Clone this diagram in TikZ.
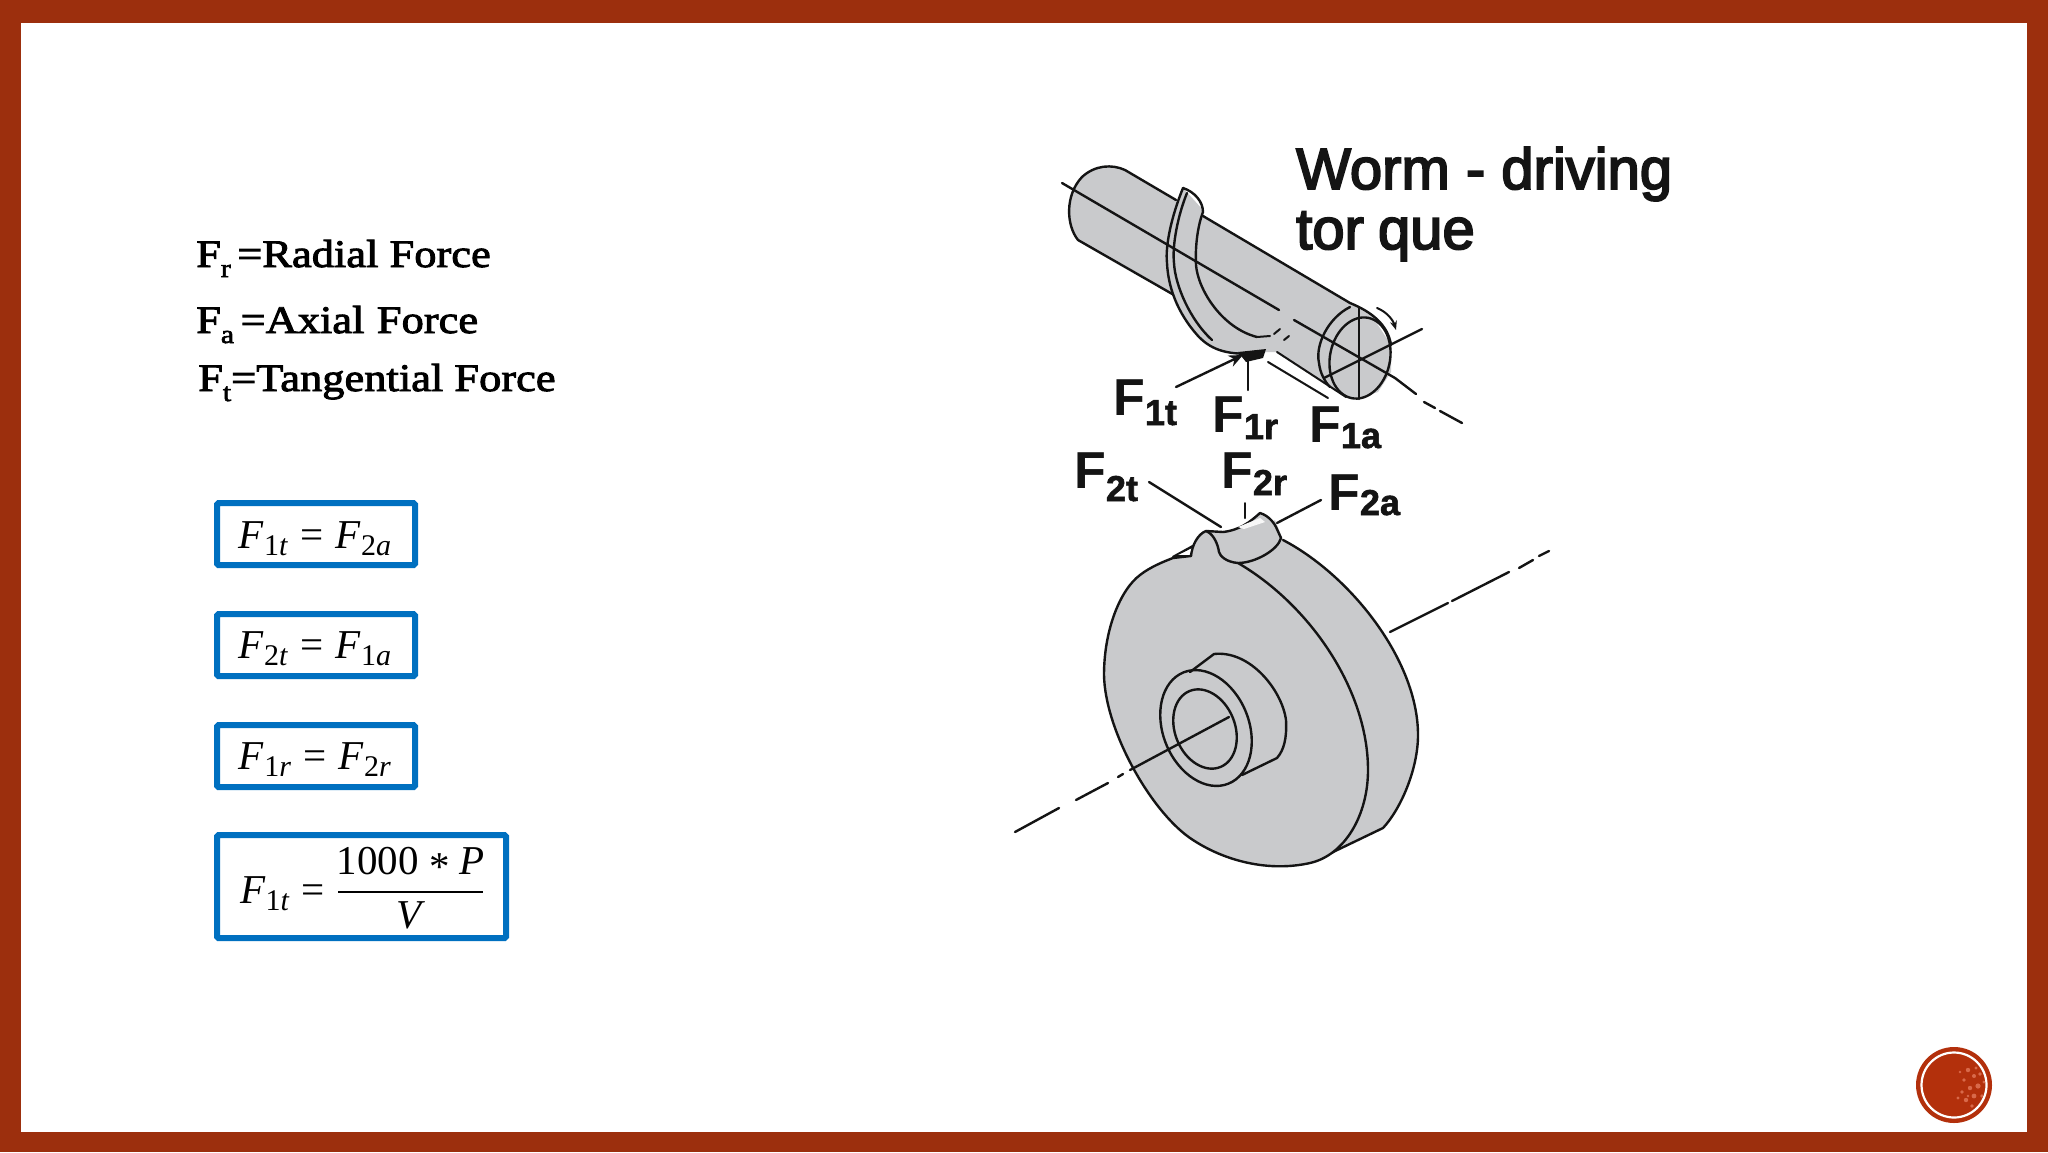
\documentclass[tikz,border=0pt]{standalone}
\usepackage{fontspec}
\setmainfont{Liberation Serif}
\newfontfamily\lblfont{Liberation Sans}[BoldFont={Liberation Sans Bold}]
\newfontfamily\subfont{Liberation Sans}[FakeBold=1.6]
\newfontfamily\headfont{Liberation Sans}[FakeBold=3.2]
\newfontfamily\defsfont{Liberation Serif}[FakeBold=2.4,FakeStretch=1.14]
\newfontfamily\eqfont{Liberation Serif}
\usetikzlibrary{arrows.meta,calc}
\definecolor{frameRed}{HTML}{9C2F0D}
\definecolor{boxBlue}{HTML}{0070C0}
\definecolor{partGray}{HTML}{C9CACC}
\definecolor{inkBlack}{HTML}{141414}
\definecolor{badgeRed}{HTML}{B3300C}
\definecolor{speck}{HTML}{D8694A}
\newcommand{\FS}[2]{\fontsize{#1}{#1}\selectfont #2}
\newcommand{\lblF}[2]{{\lblfont\bfseries\FS{52}{F}\raisebox{#1pt}{\subfont\FS{36}{#2}}}}
\newcommand{\eqF}[2]{\textit{F}\raisebox{-7pt}{\FS{30}{#1\textit{#2}}}}
\newcommand{\eqS}{\hspace{.3em}=\hspace{.3em}}
\newcommand{\defF}[2]{F\raisebox{-10pt}{\FS{26}{#1}}#2}
\tikzset{
  edge/.style={draw=inkBlack,line width=2.4pt,line cap=round,line join=round},
  part/.style={edge,fill=partGray},
  eqbox/.style={draw=boxBlue,line width=6pt,fill=white,rounded corners=1.5pt},
  eqtext/.style={inner sep=0pt,anchor=base,text=black,font=\eqfont\FS{41}{}},
  deftext/.style={inner sep=0pt,anchor=base west,text=black,font=\defsfont\FS{39}{}},
  forcelbl/.style={inner sep=0pt,anchor=base west,text=inkBlack},
  headline/.style={inner sep=0pt,anchor=base west,text=inkBlack,font=\headfont\FS{58}{}}
}
\begin{document}
\begin{tikzpicture}[x=1pt,y=-1pt]
\useasboundingbox (0,0) rectangle (2048,1152);
% frame
\fill[frameRed] (0,0) rectangle (2048,1152);
\fill[white] (21,23) rectangle (2027,1132);
% badge
\fill[badgeRed] (1954,1085) circle[radius=38];
\draw[white,line width=2.2pt] (1954,1085) circle[radius=32.5];
\begin{scope}
\clip (1954,1085) circle[radius=31];
\foreach \px/\py/\pr in {1968/1070/2.2,1974/1076/2,1964/1080/1.9,1978/1086/2.6,1970/1088/2.2,1962/1092/1.8,1974/1096/2.4,1966/1100/2.2,1980/1074/1.9,1958/1098/1.6,1972/1106/1.9,1982/1096/1.8,1976/1068/1.6,1960/1072/1.4,1984/1082/1.7,1968/1096/1.4}
  \fill[speck] (\px,\py) circle[radius=\pr];
\end{scope}
% definitions
\node[deftext] (d1) at (196,267) {\defF{r}{\,=Radial Force}};
\node[deftext] (d2) at (196,333) {\defF{a}{\,=Axial\hspace{.32em}Force}};
\node[deftext] (d3) at (198,391) {\defF{t}{=Tangential Force}};
% equation boxes
\path[eqbox] (217,503) rectangle (415,565);
\path[eqbox] (217,614) rectangle (415,676);
\path[eqbox] (217,725) rectangle (415,787);
\path[eqbox] (217,835) rectangle (506,938);
\node[eqtext] (e1) at (315,548) {\eqF{1}{t}\eqS\eqF{2}{a}};
\node[eqtext] (e2) at (315,658) {\eqF{2}{t}\eqS\eqF{1}{a}};
\node[eqtext] (e3) at (315,769) {\eqF{1}{r}\eqS\eqF{2}{r}};
\node[eqtext,anchor=base west] (e4) at (240,903) {\eqF{1}{t}\eqS};
\node[eqtext] (e5) at (411,874) {1000 \raisebox{-6pt}{*} \textit{P}};
\node[eqtext] (e6) at (411,928) {\textit{V}};
\coordinate (barL) at (338,892);
\coordinate (barR) at (483,892);
\draw[black,line width=2.5pt] (barL) -- (barR);
% worm
\fill[partGray] (1125,170) -- (1350,303) -- (1372,316) -- (1391,345) -- (1391,372) -- (1378,392) -- (1355,399) -- (1346,397) -- (1277,352) -- (1230,353) -- (1199,337) -- (1174,295) -- (1078,240) .. controls (1068,225) and (1065,195) .. (1082,177) .. controls (1095,165) and (1112,164) .. (1125,170) -- cycle;
\draw[edge] (1078,240) .. controls (1066,225) and (1065,195) .. (1082,177) .. controls (1095,165) and (1112,164) .. (1125,170);
\draw[edge] (1125,170) -- (1176,200);
\draw[edge] (1203,216) -- (1350,303);
\draw[edge] (1078,240) -- (1174,295);
\draw[edge] (1350,303) .. controls (1372,312) and (1388,325) .. (1391,345);
\draw[edge] (1350,307) .. controls (1328,318) and (1315,345) .. (1319,363) .. controls (1320,373) and (1325,382) .. (1330,387);
\draw[edge,rotate around={-12:(1360,358)}] (1360,358) ellipse[x radius=30,y radius=41];
\draw[edge,line width=2pt] (1277,352) -- (1346,397);
\draw[edge,line width=2pt] (1268,362) -- (1328,398);
% thread
\fill[partGray] (1183,188) .. controls (1172,215) and (1165,245) .. (1167,263) .. controls (1168,285) and (1174,305) .. (1199,337) .. controls (1212,350) and (1228,355) .. (1250,355) -- (1257,337) .. controls (1225,325) and (1198,290) .. (1196,260) .. controls (1195,240) and (1200,225) .. (1203,210) -- cycle;
\draw[edge] (1183,188) .. controls (1172,215) and (1165,245) .. (1167,263) .. controls (1168,285) and (1176,312) .. (1199,337) .. controls (1212,350) and (1228,356) .. (1262,353);
\draw[edge] (1187,193) .. controls (1178,215) and (1172,245) .. (1174,263) .. controls (1175,285) and (1190,320) .. (1212,340);
\draw[edge] (1183,188) .. controls (1195,192) and (1203,202) .. (1203,212) .. controls (1198,225) and (1195,245) .. (1196,265) .. controls (1198,290) and (1222,328) .. (1257,337);
\draw[edge,line width=2pt] (1257,337) -- (1270,336);
\draw[edge,line width=2pt] (1274,334) -- (1280,329);
\draw[edge,line width=2pt] (1284,340) -- (1289,336);
% worm axes
\coordinate (wa0) at (1062,183);
\coordinate (wa1) at (1279,310);
\coordinate (wa3) at (1294,320);
\coordinate (wa4) at (1395,378);
\coordinate (wa5) at (1424,402);
\coordinate (wa6) at (1435,408);
\coordinate (wa7) at (1462,423);
\draw[edge] (wa0) -- (wa1);
\draw[edge] (wa3) -- (wa4) -- (1416,394);
\draw[edge] (wa5) -- (wa6);
\draw[edge] (1440,411) -- (wa7);
\draw[edge] (1359,307) -- (1359,399);
\draw[edge] (1422,329) -- (1324,378);
\draw[edge,line width=2pt,-{Stealth[length=9pt,width=7pt]}] (1377,308) .. controls (1387,312) and (1393,320) .. (1396,330);
% force leaders worm
\coordinate (a1s) at (1176,387);
\coordinate (a1e) at (1243,355);
\coordinate (a2s) at (1248,390);
\coordinate (a2e) at (1248,354);
\fill[inkBlack] (1238,352) -- (1266,349) -- (1263,358) -- (1246,362) -- cycle;
\draw[edge,-{Stealth[length=14pt,width=12pt]}] (a1s) -- (a1e);
\draw[edge] (a2s) -- (a2e);
% wheel axes behind
\coordinate (wb0) at (1390,632);
\coordinate (wb1) at (1549,551);
\draw[edge] (wb0) -- (1448,603);
\draw[edge] (1452,601) -- (1509,572);
\draw[edge] (1519,568) -- (1533,560);
\draw[edge] (1539,556) -- (wb1);
% wheel rim
\fill[partGray] (1275,520) -- (1283,540) .. controls (1350,575) and (1418,660) .. (1418,735) .. controls (1418,770) and (1400,810) .. (1383,828) -- (1331,853) -- (1280,700) -- (1230,560) -- cycle;
\draw[edge] (1283,540) .. controls (1350,575) and (1418,660) .. (1418,735) .. controls (1418,770) and (1400,810) .. (1383,828) -- (1331,853);
% wheel face
\path[part] (1191,556) .. controls (1192,545) and (1198,534) .. (1206,531) -- (1223,532)
 .. controls (1240,530) and (1250,522) .. (1260,513) .. controls (1270,516) and (1275,525) .. (1276,527)
 -- (1281,538) .. controls (1278,550) and (1255,563) .. (1238,563)
 .. controls (1310,605) and (1368,690) .. (1368,770) .. controls (1368,815) and (1345,855) .. (1310,863)
 .. controls (1270,872) and (1225,862) .. (1190,838) .. controls (1150,810) and (1105,730) .. (1104,675)
 .. controls (1104,630) and (1120,590) .. (1140,575) .. controls (1150,567) and (1165,561) .. (1173,558)
 -- cycle;
\draw[edge] (1173,557) -- (1193,546);
\fill[white] (1176,556) -- (1191,549) -- (1189,555) -- cycle;
\draw[edge,line width=2pt] (1176,556) -- (1191,556);
% tooth
\draw[edge] (1206,531) .. controls (1214,534) and (1218,545) .. (1219,552) .. controls (1220,556) and (1226,562) .. (1238,563);
\fill[white!85!partGray] (1238,527) -- (1260,518) -- (1265,522) -- (1244,529) -- cycle;
% hub
\draw[edge] (1190,672) -- (1214,654) .. controls (1250,650) and (1282,690) .. (1286,720) .. controls (1287,738) and (1284,750) .. (1277,758) -- (1242,775);
\draw[edge,rotate around={22:(1206,728)}] (1206,728) ellipse[x radius=43,y radius=60];
\draw[edge,rotate around={22:(1205,729)}] (1205,729) ellipse[x radius=30,y radius=41];
% wheel axis front
\coordinate (wc0) at (1015,832);
\coordinate (wc1) at (1229,717);
\draw[edge] (wc0) -- (1059,808);
\draw[edge] (1076,800) -- (1108,783);
\draw[edge] (1118,777) -- (1123,774);
\draw[edge] (1130,770) -- (wc1);
% wheel leaders
\coordinate (l1s) at (1149,482);
\coordinate (l1e) at (1221,527);
\coordinate (l2s) at (1245,503);
\coordinate (l2e) at (1245,518);
\coordinate (l3s) at (1321,500);
\coordinate (l3e) at (1277,523);
\draw[edge] (l1s) -- (l1e);
\draw[edge,line width=2pt] (l2s) -- (l2e);
\draw[edge] (l3s) -- (l3e);
% labels
\node[headline] (h1) at (1296,189) {Worm - driving};
\node[headline] (h2) at (1296,249) {tor\hspace{-2pt} que};
\node[forcelbl] (f1t) at (1113,415) {\lblF{-10}{1t}};
\node[forcelbl] (f1r) at (1212,432) {\lblF{-7}{1r}};
\node[forcelbl] (f1a) at (1309,442) {\lblF{-6}{1a}};
\node[forcelbl] (f2t) at (1074,488) {\lblF{-13}{2t}};
\node[forcelbl] (f2r) at (1221,488) {\lblF{-7}{2r}};
\node[forcelbl] (f2a) at (1328,510) {\lblF{-5}{2a}};
\end{tikzpicture}
\end{document}
